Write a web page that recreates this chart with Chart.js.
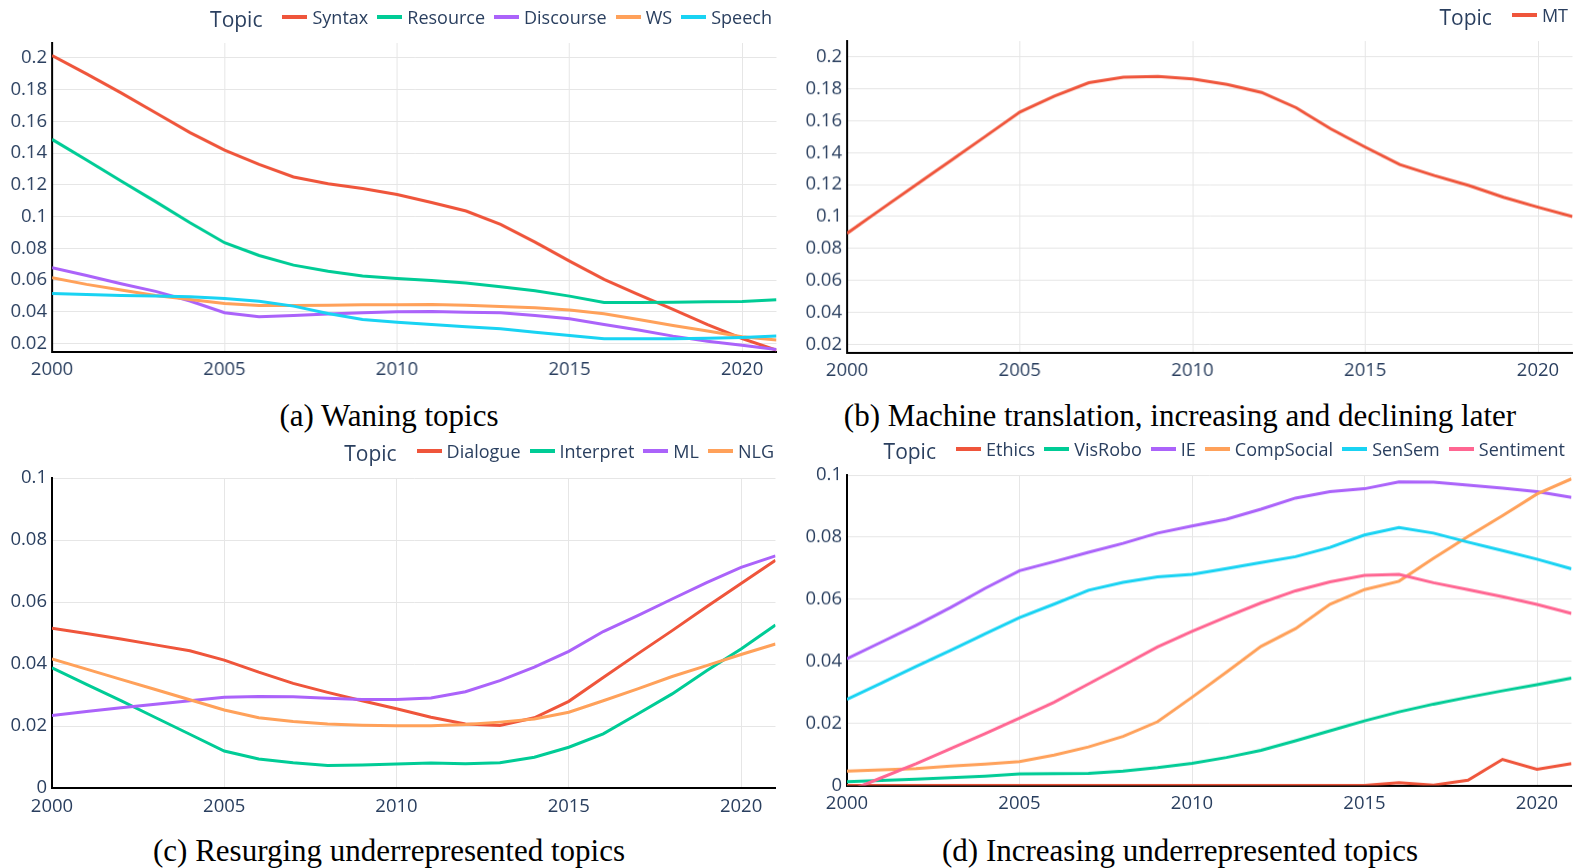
<!DOCTYPE html>
<html>
<head>
<meta charset="utf-8">
<title>Topic trends</title>
<script src="https://cdn.jsdelivr.net/npm/chart.js@4.4.1/dist/chart.umd.min.js"></script>
<style>
  body { margin: 0; width: 1581px; height: 868px; background: #fff; position: relative; overflow: hidden; font-family: 'Open Sans', sans-serif; }
  .box { position: absolute; }
  .legend { position: absolute; height: 30px; display: flex; align-items: center; color: #2a3f5f; font-size: 18px; white-space: nowrap; }
  .legend .title { font-size: 21px; margin-right: 11px; position: relative; top: 2px; }
  .legend .item { display: flex; align-items: center; margin-left: 9px; }
  .legend .item:first-of-type { margin-left: 0; }
  .legend .swatch { width: 25px; height: 4px; margin-right: 5px; }
  .caption { position: absolute; font-family: 'Liberation Serif', 'Times New Roman', serif; font-size: 31px; color: #000; transform: translate(-50%, -50%); white-space: nowrap; }
</style>
</head>
<body>
<div class="box" id="boxA"><canvas id="chartA"></canvas></div>
<div class="box" id="boxB"><canvas id="chartB"></canvas></div>
<div class="box" id="boxC"><canvas id="chartC"></canvas></div>
<div class="box" id="boxD"><canvas id="chartD"></canvas></div>

<div class="caption" style="left:389px; top:416px;">(a) Waning topics</div>
<div class="caption" style="left:1180px; top:416px;">(b) Machine translation, increasing and declining later</div>
<div class="caption" style="left:389px; top:851px;">(c) Resurging underrepresented topics</div>
<div class="caption" style="left:1180px; top:851px;">(d) Increasing underrepresented topics</div>

<script>
//---------------------------------------------------------------
// data
//---------------------------------------------------------------
const years = [2000, 2001, 2002, 2003, 2004, 2005, 2006, 2007, 2008, 2009, 2010,
               2011, 2012, 2013, 2014, 2015, 2016, 2017, 2018, 2019, 2020, 2021];
const xTicks = [2000, 2005, 2010, 2015, 2020];
const yTicksWide = [0.02, 0.04, 0.06, 0.08, 0.1, 0.12, 0.14, 0.16, 0.18, 0.2];
const yTicksNarrow = [0, 0.02, 0.04, 0.06, 0.08, 0.1];

// (a) waning topics
const syntax    = [0.2015, 0.190, 0.178, 0.1655, 0.153, 0.142, 0.133, 0.125, 0.1208, 0.1178, 0.114, 0.109, 0.1036, 0.0952, 0.084, 0.072, 0.0605, 0.051, 0.0416, 0.032, 0.0233, 0.016];
const resource  = [0.1487, 0.1357, 0.1225, 0.1095, 0.0962, 0.0836, 0.0756, 0.0695, 0.0656, 0.0626, 0.0611, 0.0599, 0.0582, 0.0559, 0.0534, 0.0500, 0.0460, 0.0460, 0.0462, 0.0464, 0.0466, 0.0477];
const discourse = [0.0679, 0.0630, 0.0578, 0.0530, 0.0469, 0.0395, 0.0370, 0.0378, 0.0387, 0.0395, 0.0401, 0.0403, 0.0399, 0.0395, 0.0378, 0.0357, 0.0321, 0.0286, 0.0248, 0.0216, 0.0190, 0.0164];
const ws        = [0.0616, 0.0574, 0.0538, 0.0504, 0.0479, 0.0454, 0.0441, 0.0441, 0.0443, 0.0445, 0.0445, 0.0447, 0.0443, 0.0435, 0.0426, 0.0412, 0.0389, 0.0353, 0.0315, 0.0280, 0.0244, 0.0223];
const speech    = [0.0517, 0.0510, 0.0504, 0.0500, 0.0496, 0.0485, 0.0468, 0.0437, 0.0391, 0.0353, 0.0336, 0.0321, 0.0307, 0.0294, 0.0273, 0.0252, 0.0231, 0.0231, 0.0231, 0.0235, 0.0240, 0.0248];

// (b) machine translation
const mt = [0.0895, 0.1048, 0.1199, 0.1351, 0.1502, 0.1655, 0.1755, 0.1839, 0.1874, 0.1879, 0.1862, 0.1828, 0.1778, 0.1682, 0.1550, 0.1435, 0.1326, 0.1257, 0.1195, 0.1121, 0.1059, 0.1000];

// (c) resurging topics
const dialogue  = [0.0516, 0.0499, 0.0481, 0.0462, 0.0443, 0.0413, 0.0374, 0.0338, 0.0309, 0.0282, 0.0256, 0.0229, 0.0207, 0.0202, 0.0227, 0.0280, 0.0357, 0.0433, 0.0508, 0.0585, 0.0660, 0.0735];
const interpret = [0.0388, 0.0335, 0.0282, 0.0228, 0.0174, 0.0120, 0.0094, 0.0082, 0.0073, 0.0075, 0.0078, 0.0081, 0.0079, 0.0082, 0.0100, 0.0132, 0.0175, 0.0239, 0.0304, 0.0379, 0.0449, 0.0526];
const ml        = [0.0234, 0.0247, 0.0259, 0.0271, 0.0282, 0.0293, 0.0296, 0.0295, 0.0290, 0.0286, 0.0286, 0.0291, 0.0311, 0.0347, 0.0390, 0.0441, 0.0505, 0.0556, 0.0610, 0.0663, 0.0712, 0.0749];
const nlg       = [0.0417, 0.0384, 0.0351, 0.0318, 0.0285, 0.0252, 0.0227, 0.0215, 0.0207, 0.0203, 0.0201, 0.0201, 0.0205, 0.0213, 0.0223, 0.0245, 0.0282, 0.0320, 0.0360, 0.0395, 0.0431, 0.0465];

// (d) increasing topics
const ethics     = [0, 0, 0, 0, 0, 0, 0, 0, 0, 0, 0, 0, 0, 0, 0, 0, 0.0009, 0.0001, 0.0017, 0.0084, 0.0052, 0.0070];
const visrobo    = [0.0012, 0.0016, 0.0020, 0.0025, 0.0030, 0.0037, 0.0038, 0.0039, 0.0046, 0.0057, 0.0071, 0.0090, 0.0113, 0.0144, 0.0176, 0.0208, 0.0237, 0.0262, 0.0284, 0.0305, 0.0325, 0.0346];
const ie         = [0.0408, 0.0462, 0.0516, 0.0573, 0.0635, 0.0692, 0.0721, 0.0751, 0.0780, 0.0813, 0.0836, 0.0858, 0.0890, 0.0926, 0.0947, 0.0956, 0.0978, 0.0977, 0.0968, 0.0958, 0.0947, 0.0928];
const compsocial = [0.0046, 0.0050, 0.0054, 0.0062, 0.0069, 0.0077, 0.0098, 0.0124, 0.0158, 0.0205, 0.0284, 0.0365, 0.0448, 0.0505, 0.0584, 0.0631, 0.0658, 0.0732, 0.0802, 0.0869, 0.0939, 0.0988];
const sensem     = [0.0277, 0.0330, 0.0383, 0.0435, 0.0488, 0.0541, 0.0584, 0.0629, 0.0654, 0.0672, 0.0680, 0.0699, 0.0718, 0.0737, 0.0767, 0.0807, 0.0831, 0.0813, 0.0784, 0.0757, 0.0729, 0.0698];
const sentiment  = [-0.002, 0.0025, 0.0070, 0.0118, 0.0167, 0.0217, 0.0268, 0.0327, 0.0386, 0.0446, 0.0496, 0.0543, 0.0588, 0.0627, 0.0656, 0.0677, 0.0680, 0.0653, 0.0631, 0.0608, 0.0583, 0.0554];

//---------------------------------------------------------------
// plotly-like colours
//---------------------------------------------------------------
const RED = '#EF553B', GREEN = '#00CC96', PURPLE = '#AB63FA',
      ORANGE = '#FFA15A', CYAN = '#19D3F3', PINK = '#FF6692';
const TEXT = '#2a3f5f';
const GRID = '#e6e6e6';

/**
 * one panel: plot area given in page pixels
 */
function makePanel(id, area, yRange, yTicks, series, legendPos) {
    const yWidth = 52, padTop = 20, padRight = 8, xHeight = 32;
    const left = area.L - yWidth;
    const top = area.T - padTop;
    const box = document.getElementById('box' + id);
    box.style.left = left + 'px';
    box.style.top = top + 'px';
    box.style.width = (area.R + padRight - left) + 'px';
    box.style.height = (area.B + xHeight - top) + 'px';

    const datasets = series.map((s, i) => ({
        label: s.name,
        data: years.map((yr, k) => ({x: yr, y: s.values[k]})),
        borderColor: s.color,
        backgroundColor: s.color,
        borderWidth: 3,
        pointRadius: 0,
        tension: 0,
        fill: false,
        order: -i
    }));

    new Chart(document.getElementById('chart' + id), {
        type: 'line',
        data: {datasets: datasets},
        options: {
            responsive: true,
            maintainAspectRatio: false,
            animation: false,
            layout: {padding: {top: padTop, right: padRight, left: 0, bottom: 0}},
            plugins: {legend: {display: false}, tooltip: {enabled: false}},
            scales: {
                x: {
                    type: 'linear',
                    min: 2000,
                    max: 2021,
                    afterBuildTicks: (s) => { s.ticks = xTicks.map(v => ({value: v})); },
                    afterFit: (s) => { s.height = xHeight; },
                    grid: {color: GRID, lineWidth: 1, drawTicks: false},
                    border: {display: true, color: '#000', width: 2},
                    ticks: {
                        color: TEXT,
                        padding: 7,
                        maxRotation: 0,
                        font: {family: 'Open Sans', size: 18.5},
                        callback: (v) => String(v)
                    }
                },
                y: {
                    type: 'linear',
                    min: yRange[0],
                    max: yRange[1],
                    afterBuildTicks: (s) => { s.ticks = yTicks.map(v => ({value: v})); },
                    afterFit: (s) => { s.width = yWidth; },
                    grid: {color: GRID, lineWidth: 1, drawTicks: false},
                    border: {display: true, color: '#000', width: 2},
                    ticks: {
                        color: TEXT,
                        padding: 5,
                        font: {family: 'Open Sans', size: 18.5},
                        callback: (v) => String(Number(v.toFixed(3)))
                    }
                }
            }
        }
    });

    // plotly-style horizontal legend with "Topic" title
    const lg = document.createElement('div');
    lg.className = 'legend';
    lg.style.right = (1581 - legendPos.right) + 'px';
    lg.style.top = (legendPos.cy - 15) + 'px';
    let html = '<span class="title">Topic</span>';
    series.forEach(s => {
        html += '<span class="item"><span class="swatch" style="background:' + s.color + '"></span>' + s.name + '</span>';
    });
    lg.innerHTML = html;
    document.body.appendChild(lg);
}

makePanel('A', {L: 52, T: 43, R: 775.5, B: 352}, [0.0148, 0.2094], yTicksWide, [
    {name: 'Syntax', values: syntax, color: RED},
    {name: 'Resource', values: resource, color: GREEN},
    {name: 'Discourse', values: discourse, color: PURPLE},
    {name: 'WS', values: ws, color: ORANGE},
    {name: 'Speech', values: speech, color: CYAN}
], {right: 772, cy: 17});

makePanel('B', {L: 847.3, T: 41, R: 1571.8, B: 351.7}, [0.0147, 0.210], yTicksWide, [
    {name: 'MT', values: mt, color: RED}
], {right: 1568, cy: 15});

makePanel('C', {L: 51.5, T: 477.5, R: 775, B: 787.7}, [0, 0.1], yTicksNarrow, [
    {name: 'Dialogue', values: dialogue, color: RED},
    {name: 'Interpret', values: interpret, color: GREEN},
    {name: 'ML', values: ml, color: PURPLE},
    {name: 'NLG', values: nlg, color: ORANGE}
], {right: 774, cy: 451});

makePanel('D', {L: 846.5, T: 475, R: 1571, B: 784.5}, [0, 0.1], yTicksNarrow, [
    {name: 'Ethics', values: ethics, color: RED},
    {name: 'VisRobo', values: visrobo, color: GREEN},
    {name: 'IE', values: ie, color: PURPLE},
    {name: 'CompSocial', values: compsocial, color: ORANGE},
    {name: 'SenSem', values: sensem, color: CYAN},
    {name: 'Sentiment', values: sentiment, color: PINK}
], {right: 1565, cy: 449});
</script>
</body>
</html>
